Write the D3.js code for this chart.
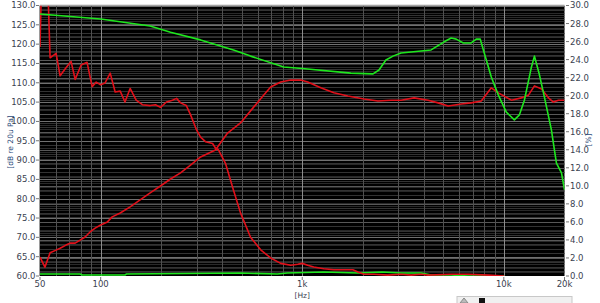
<!DOCTYPE html>
<html>
<head>
<meta charset="utf-8">
<script src="https://cdn.jsdelivr.net/npm/d3@7"></script>
<style>
  body { margin: 0; background: #fff; }
  svg { display: block; }
</style>
</head>
<body>
<div id="chart"></div>
<script>
// frequency response (dB, left axis)
const respFreq = [50, 100, 176, 222, 313, 456, 554, 809, 1000, 1743, 2244, 2403, 2600, 2819, 3090, 4357, 5058, 5482, 5807, 6293, 6889, 7297, 7640, 7997, 8668, 9395, 10290, 11280, 11950, 12650, 13710, 14190, 15030, 15900, 17220, 17830, 18240, 19320, 20000];
const respDb = [127.8, 126.5, 124.7, 123.1, 121.1, 118.5, 116.9, 114.1, 113.7, 112.5, 112.3, 113.3, 115.9, 116.9, 117.7, 118.5, 120.6, 121.6, 121.3, 120.3, 120.3, 121.3, 121.3, 117.7, 111.5, 106.8, 102.4, 100.4, 101.7, 105.5, 114.1, 116.9, 112.0, 106.3, 97.8, 92.6, 89.2, 86.7, 82.3];

// rising red curve (dB, left axis)
const riseFreq = [50, 52.9, 56.1, 60.1, 62.9, 67.3, 70.5, 74.7, 79.1, 83.7, 88.6, 93.9, 100, 108, 114, 125, 140, 157, 176, 198, 222, 249, 279, 313, 371, 426, 494, 574, 643, 697, 782, 877, 983, 1064, 1236, 1435, 1683, 2024, 2376, 2755, 3090, 3589, 4210, 4722, 5295, 6150, 6889, 7727, 8668, 9395, 10900, 12220, 13250, 14190, 15380, 16650, 17620, 18670, 20000];
const riseDb = [64.9, 62.3, 66.0, 66.7, 67.2, 68.0, 68.5, 68.5, 69.3, 70.1, 71.4, 72.4, 73.2, 74.0, 75.3, 76.3, 77.9, 79.7, 81.5, 83.3, 85.1, 86.7, 88.7, 90.8, 92.6, 97.0, 99.6, 103.7, 106.8, 108.9, 110.2, 110.7, 110.7, 110.2, 108.7, 107.4, 106.6, 105.8, 105.3, 105.5, 105.5, 106.1, 105.5, 104.8, 104.0, 104.5, 104.8, 105.3, 108.7, 107.4, 105.5, 106.1, 106.8, 109.2, 108.4, 106.1, 105.0, 105.5, 105.5];

// falling red curve (%, right axis)
const thdFreq = [50, 51.3, 54, 56.1, 60.1, 62.9, 67.3, 71.3, 74.7, 80, 85.6, 90.7, 95, 100, 105, 111.5, 118, 125, 132, 140, 150, 161, 176, 187, 198, 212, 227, 238, 249, 266, 279, 299, 313, 331, 359, 371, 384, 416, 456, 494, 554, 622, 697, 782, 877, 950, 1000, 1064, 1140, 1279, 1435, 1783, 1889, 2024, 2270, 2661, 3090, 3467, 3888, 4210, 5482, 6655, 8374, 10050];
const thdPct = [25.4, 36, 36, 24.2, 24.7, 22.2, 23.1, 23.8, 21.8, 23.4, 23.7, 21.0, 21.5, 21.2, 21.4, 22.5, 20.4, 20.5, 19.3, 20.8, 19.5, 19.0, 18.9, 19.0, 18.7, 19.3, 19.5, 19.7, 19.2, 18.9, 17.9, 16.2, 15.4, 14.9, 14.7, 14.2, 14.0, 12.5, 9.5, 7.0, 4.3, 2.9, 2.0, 1.4, 1.2, 1.3, 1.4, 1.2, 1.0, 0.8, 0.7, 0.7, 0.45, 0.2, 0.2, 0.1, 0.2, 0.1, 0.2, 0.1, 0.2, 0.2, 0.1, 0.0];

// low green curve (%, right axis)
const lowFreq = [50, 79, 81, 132, 134, 494, 752, 844, 1279, 1889, 2489, 3090, 3888, 4357, 5482, 6655, 10050];
const lowPct = [0.22, 0.22, 0.11, 0.11, 0.22, 0.33, 0.22, 0.33, 0.44, 0.33, 0.44, 0.33, 0.33, 0.11, 0.11, 0.0, 0.0];

// axis ticks
const leftTicks = d3.range(60, 130.1, 5);
const rightTicks = d3.range(0, 30.1, 2);
const xTicks = [50, 100, 1000, 10000, 20000];
const xTickLabels = ["50", "100", "1k", "10k", "20k"];

const W = 600, H = 303;
const plot = { left: 40, right: 564.5, top: 5.5, bottom: 276 };

const x = d3.scaleLog().domain([50, 20000]).range([plot.left, plot.right]);
const yL = d3.scaleLinear().domain([60, 130]).range([plot.bottom, plot.top]);
const yR = d3.scaleLinear().domain([0, 30]).range([plot.bottom, plot.top]);

const svg = d3.select("#chart").append("svg")
  .attr("width", W)
  .attr("height", H);

// black plot area
svg.append("rect")
  .attr("x", plot.left)
  .attr("y", plot.top)
  .attr("width", plot.right - plot.left)
  .attr("height", plot.bottom - plot.top)
  .attr("fill", "#000");

svg.append("defs").append("clipPath")
  .attr("id", "clip")
  .append("rect")
  .attr("x", plot.left)
  .attr("y", plot.top)
  .attr("width", plot.right - plot.left)
  .attr("height", plot.bottom - plot.top);

const grid = svg.append("g").attr("clip-path", "url(#clip)");

// horizontal grid: minor + major for both axes
const hLine = (yv, col) => grid.append("line")
  .attr("x1", plot.left).attr("x2", plot.right)
  .attr("y1", Math.round(yv) + 0.5).attr("y2", Math.round(yv) + 0.5)
  .attr("stroke", col).attr("stroke-width", 1);

d3.range(60, 130, 1).forEach(v => { if (v % 5) hLine(yL(v), "#292929"); });
d3.range(0, 30, 0.5).forEach(v => { if (v % 2) hLine(yR(v), "#333"); });
rightTicks.forEach(v => hLine(yR(v), "#585858"));
leftTicks.forEach(v => hLine(yL(v), "#707070"));

// vertical grid
const minorF = [];
[10, 100, 1000, 10000].forEach(dec => {
  for (let k = 2; k <= 9; k++) {
    const f = dec * k;
    if (f > 50 && f < 20000) minorF.push(f);
  }
});
grid.selectAll(".vminor")
  .data(minorF)
  .enter().append("line")
  .attr("x1", d => Math.round(x(d)) + 0.5)
  .attr("x2", d => Math.round(x(d)) + 0.5)
  .attr("y1", plot.top).attr("y2", plot.bottom)
  .attr("stroke", "#505050");

grid.selectAll(".vmajor")
  .data([100, 1000, 10000])
  .enter().append("line")
  .attr("x1", d => Math.round(x(d)) + 0.5)
  .attr("x2", d => Math.round(x(d)) + 0.5)
  .attr("y1", plot.top).attr("y2", plot.bottom)
  .attr("stroke", "#8c8c8c");

// curves
const curves = [
  { f: lowFreq, v: lowPct, y: yR, color: "#1ee61e" },
  { f: thdFreq, v: thdPct, y: yR, color: "#e0101a" },
  { f: riseFreq, v: riseDb, y: yL, color: "#e0101a" },
  { f: respFreq, v: respDb, y: yL, color: "#1ee61e" }
];

curves.forEach(c => {
  const pts = c.f.map((f, i) => [f, c.v[i]]);
  const line = d3.line()
    .x(d => x(d[0]))
    .y(d => c.y(d[1]));
  grid.append("path")
    .datum(pts)
    .attr("fill", "none")
    .attr("stroke", c.color)
    .attr("stroke-width", 1.6)
    .attr("stroke-linejoin", "round")
    .attr("d", line);
});

// frame lines
svg.append("line")
  .attr("x1", plot.left - 0.5).attr("x2", plot.left - 0.5)
  .attr("y1", plot.top).attr("y2", plot.bottom)
  .attr("stroke", "#9a9a9a");
svg.append("line")
  .attr("x1", plot.left).attr("x2", plot.right)
  .attr("y1", plot.top - 0.5).attr("y2", plot.top - 0.5)
  .attr("stroke", "#c8c8c8");

const font = "Tahoma, 'DejaVu Sans', sans-serif";
const textCol = "#3a4150";

// left axis
const leftAxis = svg.append("g");
leftTicks.forEach(v => {
  leftAxis.append("line")
    .attr("x1", plot.left - 4).attr("x2", plot.left - 1)
    .attr("y1", yL(v)).attr("y2", yL(v))
    .attr("stroke", "#777");
  leftAxis.append("text")
    .attr("x", plot.left - 4.5)
    .attr("y", yL(v))
    .attr("dy", "0.35em")
    .attr("text-anchor", "end")
    .attr("font-family", font)
    .attr("font-size", "8.5px")
    .attr("fill", textCol)
    .text(v.toFixed(1));
});

// right axis
const rightAxis = svg.append("g");
rightTicks.forEach(v => {
  rightAxis.append("line")
    .attr("x1", plot.right + 1.5).attr("x2", plot.right + 4.5)
    .attr("y1", yR(v)).attr("y2", yR(v))
    .attr("stroke", "#777");
  rightAxis.append("text")
    .attr("x", plot.right + 5.5)
    .attr("y", yR(v))
    .attr("dy", "0.35em")
    .attr("text-anchor", "start")
    .attr("font-family", font)
    .attr("font-size", "8.5px")
    .attr("fill", textCol)
    .text(v.toFixed(1));
});

// x axis
xTicks.forEach((f, i) => {
  svg.append("line")
    .attr("x1", x(f)).attr("x2", x(f))
    .attr("y1", plot.bottom + 1).attr("y2", plot.bottom + 4)
    .attr("stroke", "#777");
  svg.append("text")
    .attr("x", x(f))
    .attr("y", 287)
    .attr("text-anchor", "middle")
    .attr("font-family", font)
    .attr("font-size", "8.5px")
    .attr("fill", textCol)
    .text(xTickLabels[i]);
});

// axis titles
svg.append("text")
  .attr("x", x(1000))
  .attr("y", 298)
  .attr("text-anchor", "middle")
  .attr("font-family", font)
  .attr("font-size", "7.5px")
  .attr("fill", textCol)
  .text("[Hz]");

svg.append("text")
  .attr("transform", "translate(13,142) rotate(-90)")
  .attr("text-anchor", "middle")
  .attr("font-family", font)
  .attr("font-size", "7.5px")
  .attr("fill", "#2a4a7a")
  .text("[dB re 20u Pa]");

svg.append("text")
  .attr("transform", "translate(591,140) rotate(-90)")
  .attr("text-anchor", "middle")
  .attr("font-family", font)
  .attr("font-size", "7.5px")
  .attr("fill", "#2a4a7a")
  .text("[%]");

// small toolbar stub at bottom right
const tb = svg.append("g");
tb.append("rect")
  .attr("x", 457).attr("y", 296.5)
  .attr("width", 115).attr("height", 10)
  .attr("fill", "#f0f0f0").attr("stroke", "#c8c8c8");
tb.append("path")
  .attr("d", "M460,303 L464,298 L468,303 Z")
  .attr("fill", "#bbb").attr("stroke", "#888");
tb.append("rect")
  .attr("x", 479).attr("y", 298)
  .attr("width", 6).attr("height", 6)
  .attr("fill", "#111");
</script>
</body>
</html>
